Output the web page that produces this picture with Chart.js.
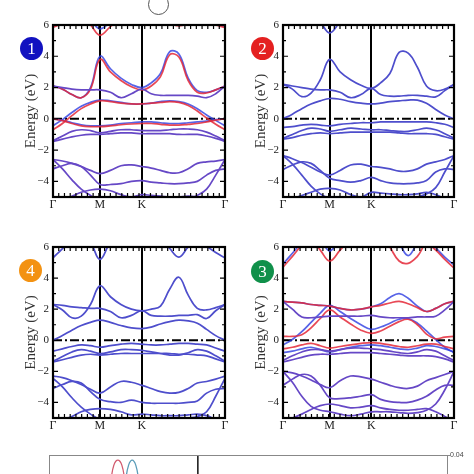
<!DOCTYPE html>
<html>
<head>
<meta charset="utf-8">
<script src="https://cdn.jsdelivr.net/npm/chart.js@4.4.0/dist/chart.umd.min.js"></script>
<style>
    html, body { margin: 0; padding: 0; background: #fff; width: 474px; height: 474px; overflow: hidden; position: relative; }
    canvas { position: absolute; }
    .badge { position: absolute; width: 23px; height: 23px; border-radius: 50%; color: #fff;
             font: 17px "Liberation Serif", serif; text-align: center; line-height: 23px; }
    .ring { position: absolute; left: 148px; top: -6px; width: 19px; height: 19px; border: 1px solid #555; border-radius: 50%; }
</style>
</head>
<body>
<div class="ring"></div>
<canvas id="p1" width="232" height="215" style="left:0;top:0"></canvas>
<canvas id="p2" width="237" height="215" style="left:237px;top:0"></canvas>
<canvas id="p4" width="232" height="206" style="left:0;top:230px"></canvas>
<canvas id="p3" width="237" height="206" style="left:237px;top:230px"></canvas>
<canvas id="strip" width="474" height="80" style="left:0;top:440px"></canvas>
<div class="badge" style="left:20px;top:37px;background:#1212c0">1</div>
<div class="badge" style="left:251px;top:37px;background:#e42020">2</div>
<div class="badge" style="left:19px;top:259px;background:#f39212">4</div>
<div class="badge" style="left:251px;top:260px;background:#10904a">3</div>
<script>
// k-path sample points (Γ - M - K - Γ)
const kx = [0, 0.055, 0.11, 0.164, 0.218, 0.273, 0.334, 0.395, 0.456, 0.517, 0.571, 0.625, 0.679, 0.732, 0.786, 0.839, 0.893, 0.946, 1.0];
const kTicks = [0, 0.273, 0.517, 1];
const kLabels = ['Γ', 'M', 'K', 'Γ'];
const yTicks = [-4, -2, 0, 2, 4, 6];
const fermi = 0;

// panel 1 - spin split bands (blue = up, red = down), purple = both
const p1Up = [
    [5.9, 6.2, 6.5, 6.6, 6.3, 5.75, 6.2, 6.6, 6.8, 6.9, 6.8, 6.6, 6.3, 6.15, 6.3, 6.5, 6.4, 6.1, 5.9],
    [2.1, 1.9, 1.55, 1.35, 2.0, 4.0, 3.2, 2.6, 2.2, 2.0, 2.3, 2.9, 4.3, 4.15, 2.6, 1.8, 1.7, 1.85, 2.1],
    [-0.45, -0.05, 0.4, 0.8, 1.05, 1.2, 1.15, 1.05, 0.95, 0.95, 1.0, 1.1, 1.15, 1.1, 0.95, 0.65, 0.25, -0.1, -0.45],
    [0.0, -0.1, -0.25, -0.38, -0.45, -0.45, -0.4, -0.3, -0.25, -0.2, -0.2, -0.25, -0.3, -0.3, -0.25, -0.2, -0.15, -0.05, 0.0]
];
const p1Dn = [
    [5.85, 6.1, 6.4, 6.5, 6.0, 5.35, 5.9, 6.4, 6.7, 6.8, 6.7, 6.4, 6.1, 5.95, 6.1, 6.4, 6.3, 6.0, 5.85],
    [2.1, 1.9, 1.55, 1.35, 1.9, 3.8, 3.0, 2.45, 2.05, 1.85, 2.1, 2.7, 4.1, 3.95, 2.45, 1.7, 1.65, 1.85, 2.1],
    [-0.7, -0.3, 0.2, 0.65, 0.95, 1.15, 1.1, 1.0, 0.95, 0.95, 1.0, 1.05, 1.1, 1.05, 0.85, 0.5, 0.05, -0.35, -0.7],
    [0.0, -0.12, -0.3, -0.45, -0.5, -0.5, -0.45, -0.38, -0.33, -0.3, -0.3, -0.35, -0.4, -0.4, -0.35, -0.3, -0.2, -0.08, 0.0]
];
const p1Both = [
    [2.1, 2.0, 1.9, 1.85, 1.85, 1.85, 1.7, 1.35, 1.6, 1.9, 1.6, 1.5, 1.5, 1.5, 1.5, 1.45, 1.35, 1.6, 2.1],
    [-1.4, -1.1, -0.8, -0.7, -0.75, -0.9, -0.8, -0.7, -0.7, -0.75, -0.75, -0.75, -0.7, -0.65, -0.65, -0.7, -0.85, -1.1, -1.4],
    [-1.45, -1.3, -1.15, -1.05, -1.0, -1.0, -0.95, -0.9, -0.9, -0.95, -0.95, -0.95, -0.95, -1.0, -1.0, -1.0, -1.1, -1.25, -1.45],
    [-2.6, -2.7, -2.85, -3.05, -3.3, -3.5, -3.3, -3.0, -2.95, -3.05, -3.15, -3.3, -3.45, -3.45, -3.2, -2.85, -2.75, -2.7, -2.6],
    [-3.2, -3.0, -2.85, -3.05, -3.6, -4.2, -4.2, -4.15, -4.0, -3.95, -4.05, -4.1, -4.15, -4.15, -4.1, -4.0, -3.6, -3.3, -3.2],
    [-2.6, -3.2, -3.9, -4.5, -4.9, -5.2, -5.3, -5.3, -5.2, -5.0, -5.1, -5.2, -5.2, -5.2, -5.1, -4.9, -4.5, -3.6, -2.6],
    [-5.4, -5.2, -4.95, -4.7, -4.55, -4.5, -4.6, -4.85, -5.0, -4.85, -4.9, -4.95, -5.0, -5.0, -4.95, -5.0, -5.1, -5.2, -5.3]
];

// panel 2 - non magnetic
const p2Bands = [
    [7, 7, 7, 6.8, 6.2, 5.5, 6.2, 6.8, 7, 7, 7, 7, 7, 7, 7, 7, 7, 7, 7],
    [2.2, 1.9, 1.42, 1.65, 2.5, 3.8, 3.0, 2.5, 2.15, 1.95, 2.3, 2.9, 4.25, 4.2, 3.3, 2.1, 1.8, 1.9, 2.2],
    [2.2, 2.1, 2.0, 1.9, 1.85, 1.85, 1.7, 1.35, 1.55, 1.95, 1.55, 1.45, 1.45, 1.5, 1.5, 1.45, 1.4, 1.8, 2.2],
    [0.0, 0.3, 0.65, 0.95, 1.15, 1.3, 1.25, 1.1, 1.0, 0.95, 1.0, 1.1, 1.15, 1.2, 1.2, 1.0, 0.6, 0.25, 0.0],
    [-0.55, -0.5, -0.4, -0.35, -0.4, -0.45, -0.35, -0.3, -0.25, -0.25, -0.2, -0.2, -0.2, -0.2, -0.2, -0.2, -0.25, -0.35, -0.55],
    [-1.25, -1.0, -0.75, -0.6, -0.65, -0.8, -0.7, -0.6, -0.65, -0.7, -0.7, -0.75, -0.8, -0.8, -0.7, -0.6, -0.7, -0.95, -1.25],
    [-1.3, -1.2, -1.05, -0.95, -0.9, -0.95, -0.9, -0.85, -0.85, -0.85, -0.85, -0.85, -0.9, -0.95, -0.95, -0.95, -1.0, -1.15, -1.3],
    [-2.35, -2.55, -2.8, -3.1, -3.4, -3.6, -3.3, -2.95, -2.9, -3.05, -3.1, -3.2, -3.35, -3.35, -3.2, -2.9, -2.75, -2.6, -2.35],
    [-3.25, -2.95, -2.75, -2.85, -3.3, -3.8, -3.95, -4.05, -3.95, -3.75, -3.95, -4.1, -4.15, -4.15, -4.1, -3.95, -3.4, -3.2, -3.25],
    [-2.35, -2.9, -3.6, -4.3, -4.8, -5.1, -5.2, -5.2, -5.1, -5.0, -5.0, -5.1, -5.1, -5.1, -5.0, -4.8, -4.4, -3.4, -2.35],
    [-5.3, -5.1, -4.9, -4.7, -4.5, -4.45, -4.55, -4.85, -5.0, -4.7, -4.75, -4.8, -4.85, -4.85, -4.8, -4.7, -4.85, -5.1, -5.3]
];

// panel 4 - non magnetic
const p4Bands = [
    [5.3, 5.9, 6.6, 6.8, 6.3, 5.2, 6.3, 6.8, 7, 7, 7, 6.7, 5.9, 5.35, 6.0, 6.5, 6.05, 5.65, 5.3],
    [2.3, 1.95, 1.45, 1.55, 2.3, 3.5, 2.8, 2.3, 2.0, 1.9, 2.0, 2.2, 3.3, 4.05, 2.9, 2.05, 1.95, 2.1, 2.3],
    [2.3, 2.25, 2.15, 2.1, 2.05, 2.05, 1.85, 1.45, 1.6, 1.9, 1.6, 1.55, 1.55, 1.6, 1.6, 1.65, 1.4, 1.9, 2.3],
    [0.0, 0.3, 0.65, 0.95, 1.15, 1.3, 1.15, 0.95, 0.8, 0.75, 0.85, 1.05, 1.2, 1.3, 1.25, 1.1, 0.7, 0.3, 0.0],
    [-0.7, -0.55, -0.4, -0.3, -0.35, -0.45, -0.35, -0.25, -0.2, -0.25, -0.3, -0.3, -0.25, -0.2, -0.2, -0.25, -0.3, -0.5, -0.7],
    [-1.35, -1.05, -0.75, -0.6, -0.7, -0.85, -0.75, -0.6, -0.6, -0.65, -0.75, -0.85, -0.95, -0.95, -0.8, -0.6, -0.7, -1.0, -1.35],
    [-1.4, -1.25, -1.1, -0.95, -0.9, -0.95, -0.9, -0.85, -0.85, -0.85, -0.85, -0.85, -0.85, -0.9, -0.9, -0.95, -1.0, -1.2, -1.4],
    [-2.3, -2.4, -2.6, -2.85, -3.15, -3.4, -3.0, -2.65, -2.7, -2.9, -3.1, -3.3, -3.4, -3.35, -3.1, -2.75, -2.65, -2.5, -2.3],
    [-3.1, -2.85, -2.65, -2.75, -3.3, -3.8, -3.95, -4.0, -3.85, -4.0, -4.05, -4.05, -4.05, -4.05, -4.0, -3.9, -3.4, -3.15, -3.1],
    [-2.45, -3.0, -3.7, -4.3, -4.75, -5.1, -5.2, -5.2, -5.1, -5.0, -5.1, -5.1, -5.1, -5.1, -5.0, -4.9, -4.6, -3.6, -2.45],
    [-5.3, -5.1, -4.9, -4.6, -4.45, -4.4, -4.45, -4.6, -4.8, -4.75, -4.8, -4.85, -4.85, -4.85, -4.8, -4.75, -4.85, -5.1, -5.3]
];

// panel 3 - spin split
const p3Up = [
    [4.9, 5.6, 6.3, 6.9, 6.5, 5.75, 6.5, 7, 7.2, 7.2, 7, 6.8, 6.2, 5.45, 6.2, 6.6, 5.95, 5.35, 4.85],
    [2.5, 2.45, 2.4, 2.3, 2.25, 2.2, 2.05, 1.95, 2.0, 2.15, 2.35, 2.75, 3.0, 2.7, 2.2, 1.85, 2.05, 2.35, 2.5],
    [-0.3, 0.05, 0.55, 1.15, 1.75, 2.25, 1.85, 1.4, 1.0, 0.7, 0.85, 1.1, 1.35, 1.4, 1.1, 0.6, 0.05, -0.45, -0.8],
    [-0.8, -0.7, -0.55, -0.45, -0.6, -0.75, -0.6, -0.45, -0.35, -0.3, -0.35, -0.45, -0.55, -0.6, -0.5, -0.35, -0.4, -0.55, -0.75]
];
const p3Dn = [
    [4.7, 5.4, 6.1, 6.5, 5.8, 5.1, 5.8, 6.5, 7, 7, 6.9, 6.0, 5.1, 4.95, 5.4, 6.2, 5.8, 5.2, 4.65],
    [2.5, 2.45, 2.4, 2.3, 2.25, 2.2, 2.05, 1.95, 2.0, 2.15, 2.25, 2.4, 2.5, 2.35, 2.1, 1.85, 2.05, 2.35, 2.5],
    [0.25, 0.25, 0.35, 0.8, 1.4, 1.95, 1.5, 1.05, 0.65, 0.45, 0.6, 0.9, 1.2, 1.35, 1.0, 0.4, 0.1, 0.2, 0.25],
    [-0.55, -0.45, -0.3, -0.2, -0.35, -0.5, -0.4, -0.3, -0.2, -0.15, -0.2, -0.3, -0.4, -0.45, -0.35, -0.25, -0.25, -0.4, -0.55]
];
const p3Both = [
    [2.5, 2.0, 1.5, 1.45, 1.5, 1.55, 1.55, 1.55, 1.55, 1.6, 1.5, 1.45, 1.45, 1.45, 1.5, 1.5, 1.55, 1.95, 2.5],
    [-1.3, -1.0, -0.75, -0.6, -0.6, -0.7, -0.6, -0.5, -0.5, -0.55, -0.6, -0.7, -0.8, -0.85, -0.75, -0.6, -0.7, -1.0, -1.3],
    [-1.4, -1.25, -1.1, -0.95, -0.9, -0.9, -0.85, -0.8, -0.8, -0.8, -0.85, -0.9, -0.95, -1.0, -1.0, -1.0, -1.05, -1.2, -1.4],
    [-2.0, -2.1, -2.3, -2.55, -2.85, -3.05, -2.6, -2.3, -2.35, -2.5, -2.7, -2.9, -3.05, -3.1, -2.95, -2.6, -2.4, -2.2, -2.0],
    [-2.9, -2.5, -2.2, -2.3, -2.9, -3.7, -3.75, -3.7, -3.6, -3.5, -3.8, -3.95, -4.0, -4.0, -3.85, -3.6, -3.2, -2.9, -2.9],
    [-2.0, -2.7, -3.6, -4.25, -4.5, -4.6, -4.75, -4.85, -4.75, -4.6, -4.6, -4.6, -4.65, -4.7, -4.65, -4.5, -4.1, -3.2, -2.0],
    [-5.2, -5.0, -4.75, -4.45, -4.2, -4.1, -4.2, -4.35, -4.3, -4.2, -4.35, -4.45, -4.5, -4.5, -4.45, -4.4, -4.6, -4.9, -5.2]
];

// bottom strip (partly visible panel)
const stripRedK = [0.155, 0.163, 0.173, 0.183, 0.191];
const stripRedV = [0.022, 0.033, 0.0365, 0.033, 0.022];
const stripTealK = [0.192, 0.200, 0.209, 0.218, 0.226];
const stripTealV = [0.022, 0.033, 0.0365, 0.033, 0.022];
const stripLineK = 0.374;

const COL = {
    up: 'rgba(45, 60, 225, 0.8)',
    dn: 'rgba(228, 40, 55, 0.85)',
    both: '#6648c6',
    single: '#4e4ecc'
};
const SERIF = '"Liberation Serif", "DejaVu Serif", serif';

function pts(arr) {
    return arr.map((e, i) => ({ x: kx[i], y: e }));
}

function lineDs(arr, color) {
    return { data: pts(arr), borderColor: color, borderWidth: 1.7, pointRadius: 0, tension: 0.4, fill: false };
}

const framePlugin = {
    id: 'frame',
    afterDatasetsDraw(chart) {
        if (!chart.options.plugins.frame || !chart.options.plugins.frame.on) return;
        const { ctx, chartArea: a, scales } = chart;
        const y = scales.y;
        ctx.save();
        ctx.strokeStyle = '#000';
        ctx.lineWidth = 1.2;
        ctx.beginPath();
        for (let i = 1; i < 30; i++) {
            const px = a.left + (a.right - a.left) * i / 30;
            ctx.moveTo(px, a.top); ctx.lineTo(px, a.top + 4);
            ctx.moveTo(px, a.bottom); ctx.lineTo(px, a.bottom - 4);
        }
        for (let v = -4; v <= 5; v++) {
            const py = y.getPixelForValue(v);
            const len = v % 2 === 0 ? 5 : 3;
            ctx.moveTo(a.left, py); ctx.lineTo(a.left + len, py);
            ctx.moveTo(a.right, py); ctx.lineTo(a.right - len, py);
        }
        ctx.stroke();
        ctx.lineWidth = 2.2;
        ctx.strokeRect(a.left, a.top, a.right - a.left, a.bottom - a.top);
        ctx.restore();
    }
};
Chart.register(framePlugin);

function bandChart(id, shared, sharedColor, up, dn, pad) {
    const datasets = [];
    shared.forEach(b => datasets.push(lineDs(b, sharedColor)));
    (dn || []).forEach(b => datasets.push(lineDs(b, COL.dn)));
    (up || []).forEach(b => datasets.push(lineDs(b, COL.up)));
    datasets.push({
        data: [{ x: 0, y: fermi }, { x: 1, y: fermi }],
        borderColor: '#000', borderWidth: 2, borderDash: [9, 3, 2, 3], pointRadius: 0
    });

    new Chart(document.getElementById(id), {
        type: 'line',
        data: { datasets },
        options: {
            responsive: false,
            animation: false,
            layout: { padding: pad },
            plugins: { legend: { display: false }, tooltip: { enabled: false }, frame: { on: true } },
            scales: {
                x: {
                    type: 'linear', min: 0, max: 1,
                    afterBuildTicks: s => { s.ticks = kTicks.map(v => ({ value: v })); },
                    afterFit: s => { s.height = 18; },
                    ticks: {
                        autoSkip: false, maxRotation: 0, padding: 1,
                        color: '#222', font: { family: SERIF, size: 12 },
                        callback: (v, i) => kLabels[i]
                    },
                    grid: {
                        drawTicks: false, lineWidth: 2,
                        color: c => (c.tick && c.tick.value > 0 && c.tick.value < 1) ? '#000' : 'rgba(0,0,0,0)'
                    },
                    border: { display: false }
                },
                y: {
                    min: -5, max: 6,
                    afterBuildTicks: s => { s.ticks = yTicks.map(v => ({ value: v })); },
                    afterFit: s => { s.width = 31; },
                    ticks: {
                        padding: 4, color: '#222', font: { family: SERIF, size: 11 },
                        callback: v => String(v).replace('-', '\u2212')
                    },
                    grid: { display: false, drawTicks: false },
                    border: { display: false },
                    title: { display: true, text: 'Energy (eV)', color: '#333', font: { family: SERIF, size: 15 }, padding: 0 }
                }
            }
        }
    });
}

bandChart('p1', p1Both, COL.both, p1Up, p1Dn, { left: 22, top: 25, right: 7, bottom: 0 });
bandChart('p2', p2Bands, COL.single, null, null, { left: 15, top: 25, right: 20, bottom: 0 });
bandChart('p4', p4Bands, COL.single, null, null, { left: 22, top: 17, right: 7, bottom: 0 });
bandChart('p3', p3Both, COL.both, p3Up, p3Dn, { left: 15, top: 17, right: 20, bottom: 0 });

// bottom strip
new Chart(document.getElementById('strip'), {
    type: 'line',
    data: {
        datasets: [
            { data: stripRedK.map((k, i) => ({ x: k, y: stripRedV[i] })), borderColor: '#d25a6e', borderWidth: 1.3, pointRadius: 0, tension: 0.4 },
            { data: stripTealK.map((k, i) => ({ x: k, y: stripTealV[i] })), borderColor: '#5a9cb8', borderWidth: 1.3, pointRadius: 0, tension: 0.4 },
            { data: [{ x: stripLineK, y: 0 }, { x: stripLineK, y: 0.04 }], borderColor: '#111', borderWidth: 1.5, pointRadius: 0 }
        ]
    },
    options: {
        responsive: false,
        animation: false,
        layout: { padding: { left: 49, top: 15, right: 0, bottom: 0 } },
        plugins: { legend: { display: false }, tooltip: { enabled: false } },
        scales: {
            x: { type: 'linear', min: 0, max: 1, display: false },
            y: {
                position: 'right', min: 0, max: 0.04,
                afterBuildTicks: s => { s.ticks = [{ value: 0.04 }]; },
                afterFit: s => { s.width = 27; },
                ticks: { color: '#444', font: { family: 'Liberation Sans', size: 7 }, padding: 3, callback: v => v.toFixed(2) },
                grid: { display: false, drawTicks: false },
                border: { display: false }
            }
        }
    },
    plugins: [{
        id: 'box',
        afterDatasetsDraw(chart) {
            const { ctx, chartArea: a } = chart;
            ctx.save();
            ctx.strokeStyle = '#888';
            ctx.lineWidth = 1;
            ctx.strokeRect(a.left + 0.5, a.top + 0.5, a.right - a.left, a.bottom - a.top);
            ctx.beginPath();
            ctx.moveTo(a.right, a.top + 0.5); ctx.lineTo(a.right + 4, a.top + 0.5);
            ctx.stroke();
            ctx.restore();
        }
    }]
});
</script>
</body>
</html>
